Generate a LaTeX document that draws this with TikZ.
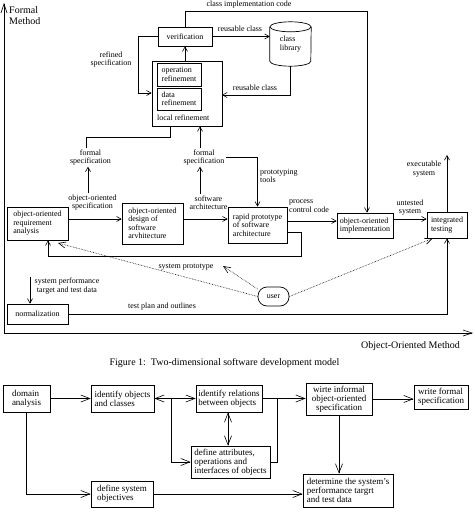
\documentclass[tikz,border=0pt]{standalone}
\usepackage{fontspec}
\setmainfont{Liberation Serif}
\usetikzlibrary{arrows.meta,calc}
\newcommand\myft{\fontsize{8}{8.5}\selectfont}
\newcommand\myfb{\fontsize{9}{9}\selectfont}
\newcommand\myfl{\fontsize{10}{11}\selectfont}
\tikzset{
  bx/.style={line width=0.7pt},
  box/.style={draw, line width=0.7pt, inner sep=1pt, align=left, font=\myft},
  bbox/.style={draw, line width=0.7pt, inner sep=1pt, align=left, font=\myfb},
  lbl/.style={inner sep=1pt, font=\myft, align=center},
  arr/.style={line width=0.6pt, -{Straight Barb[length=4.5pt,width=5pt]}},
  barr/.style={line width=0.6pt, -{Straight Barb[length=9pt,width=7pt]}},
  bboth/.style={line width=0.6pt, {Straight Barb[length=9pt,width=7pt]}-{Straight Barb[length=9pt,width=7pt]}},
  darr/.style={densely dotted, line width=0.6pt, -{Straight Barb[length=7pt,width=6pt]}},
  axarr/.style={line width=0.6pt, -{Straight Barb[length=9pt,width=6pt]}},
}
\begin{document}
\begin{tikzpicture}[x=1pt,y=-1pt]
\useasboundingbox (0,0) rectangle (474,513);
% axes
\coordinate (ax0) at (4,333);
\coordinate (axy) at (4,3);
\coordinate (axx) at (473,333);
\draw[axarr] (ax0) -- (axy);
\draw[axarr] (ax0) -- (axx);
\node[inner sep=0pt, font=\myfl, align=left, anchor=north west] (fm) at (9,6) {Formal\\Method};
\node[inner sep=0pt, font=\myfl] (oom) at (410.5,346) {Object-Oriented Method};
\node[inner sep=0pt, font=\myfl] (cap) at (224.5,363) {Figure 1:\ \ Two-dimensional software development model};

% top cluster
\node[box, align=center, minimum width=54pt, minimum height=19pt] (ver) at (185,36.5) {verification};
\node[inner sep=0pt, minimum width=41pt, minimum height=44pt, font=\myft, align=left] (lib) at (290.5,44) {class\\library};
\draw[bx] ([yshift=-5pt]lib.north) ellipse [x radius=20.5pt, y radius=5pt];
\draw[bx] ([yshift=-5pt]lib.north west) -- ([yshift=5pt]lib.south west)
  arc[start angle=180, end angle=360, x radius=20.5pt, y radius=5pt] -- ([yshift=-5pt]lib.north east);
\node[draw, bx, minimum width=70pt, minimum height=65pt, inner sep=0pt] (lr) at (187,93.5) {};
\node[box, minimum width=44pt, minimum height=23pt] (opr) at (179,74.5) {operation\\refinement};
\node[box, minimum width=44pt, minimum height=22pt] (dr) at (179,99) {data\\refinement};
\node[lbl, anchor=west] (lrl) at (156,117.5) {local refinement};

% middle row
\node[box, minimum width=61pt, minimum height=33pt] (req) at (37.5,223.5) {object-oriented\\requirement\\analysis};
\node[box, minimum width=61pt, minimum height=41pt] (des) at (152.5,223.5) {object-oriented\\design of\\software\\arvhitecture};
\node[box, minimum width=59pt, minimum height=36pt] (rp) at (257.5,225) {rapid prototype\\of software\\architecture};
\node[box, minimum width=56pt, minimum height=25pt] (impl) at (365,225.5) {object-oriented\\implementation};
\node[box, minimum width=40pt, minimum height=26pt] (it) at (447,225) {integrated\\testing};
\node[box, minimum width=61pt, minimum height=20pt] (norm) at (37.5,314) {normalization};
\node[draw, line width=0.7pt, rounded corners=9pt, minimum width=31pt, minimum height=19pt, inner sep=0pt, font=\myft] (user) at (273.5,296.5) {user};

% labels
\node[lbl] (lcic) at (249,5) {class implementation code};
\node[lbl] (lrs) at (111,59.5) {refined\\specification};
\node[lbl] (lrc1) at (240,29) {reusable class};
\node[lbl] (lrc2) at (255,88) {reusable class};
\node[lbl] (fs1) at (90.5,157.5) {formal\\specification};
\node[lbl] (oos) at (92.5,202.5) {object-oriented\\specification};
\node[lbl] (fs2) at (204,157.5) {formal\\specification};
\node[lbl] (sa) at (208.5,202.5) {software\\architecture};
\node[lbl, align=left, anchor=west] (pt) at (259,176) {prototyping\\tools};
\node[lbl, align=left, anchor=west] (pcc) at (288,206) {process\\control code};
\node[lbl] (us) at (410,207.5) {untested\\system};
\node[lbl] (es) at (424,169) {executable\\system};
\node[lbl] (sp) at (186,267) {system prototype};
\node[lbl] (tpo) at (162,307) {test plan and outlines};
\node[lbl] (spt) at (67,286) {system performance\\target and test data};

% helper coordinates
\coordinate (c1) at (367,11);
\coordinate (c2) at (222,95);
\coordinate (c3) at (170,137);
\coordinate (c4) at (48,256);
\coordinate (c6) at (30,277);
\coordinate (x88) at (88,0);
\coordinate (x200) at (200,0);
\coordinate (tes) at (447,155);
\coordinate (t1) at (58,243);
\coordinate (t2) at (223,266);

% top connectors
\draw[arr] (lr.north -| ver.south) -- (ver.south);
\draw[arr] (ver.west) -- ++(-19,0) -- ++(0,56.5) -- ++(13,0);
\draw[arr] (ver.north) |- (c1) -- (c1 |- impl.north);
\draw[arr] (ver.east) -- (ver.east -| lib.west);
\draw[arr] (lib.south) |- (c2);
\draw[line width=0.6pt] ([xshift=-4.5pt]fs1.north) |- (c3) -- (c3 |- lr.south);
\draw[arr] (oos.north -| x88) -- (fs1.south -| x88);
\draw[arr] (sa.north -| x200) -- (fs2.south -| x200);
\draw[arr] (fs2.north -| x200) -- (lr.south -| x200);
\draw[arr] (fs2.east) -| (rp.north);

% middle connectors
\draw[arr] ([yshift=4.5pt]req.east) -- ([yshift=4.5pt]req.east -| des.west);
\draw[arr] ([yshift=4.5pt]des.east) -- ([yshift=4.5pt]des.east -| rp.west);
\draw[arr] ([yshift=4pt]rp.east) -- ([yshift=4pt]rp.east -| impl.west);
\draw[arr] ([yshift=6.5pt]impl.east) -- ([yshift=6.5pt]impl.east -| it.west);
\draw[arr] (it.north) -- (tes);
\draw[arr] ([yshift=-7pt]rp.east) -- ++(14,0) |- (c4) -- (c4 |- req.south);
\draw[arr] (norm.east) -| (it.south);
\draw[arr] (c6) -- (c6 |- norm.north);
\draw[darr] (user.west) -- (t1);
\draw[darr] (user.155) -- (t2);
\draw[darr] (user.east) -- ([xshift=6pt]it.south west);

% bottom figure
\node[bbox, minimum width=47pt, minimum height=27pt] (da) at (26.5,398.5) {domain\\analysis};
\node[bbox, minimum width=63pt, minimum height=27pt] (ioc) at (122.5,398.5) {identify objects\\and classes};
\node[bbox, minimum width=66pt, minimum height=27pt] (irb) at (229,398.5) {identify relations\\between objects};
\node[bbox, minimum width=79pt, minimum height=32pt] (dat) at (230.5,462) {define attributes,\\operations and\\interfaces of objects};
\node[bbox, minimum width=62pt, minimum height=26pt] (dso) at (122,494) {define system\\objectives};
\node[bbox, align=center, minimum width=66pt, minimum height=32pt] (wio) at (339,399) {wirte informal\\object-oriented\\specification};
\node[bbox, minimum width=54pt, minimum height=24pt] (wfs) at (441,397) {write formal\\specification};
\node[bbox, minimum width=90pt, minimum height=33pt] (det) at (348,490.5) {determine the system's\\performance targrt\\and test data};

\coordinate (j1) at (171,398.5);
\coordinate (j2) at (277,398.5);
\coordinate (x228) at (228,0);
\draw[barr] (da.east) -- (ioc.west);
\draw[barr] (da.south) |- (dso.west);
\draw[bboth] (ioc.east) -- (irb.west);
\draw[barr] (j1) |- (dat.west);
\draw[bboth] (irb.south -| x228) -- (dat.north -| x228);
\draw[barr] (irb.east) -- (irb.east -| wio.west);
\draw[line width=0.6pt] (dat.east) -| (j2);
\draw[barr] (wio.east) -- (wio.east -| wfs.west);
\draw[barr] (wio.south) -- (wio.south |- det.north);
\draw[barr] (dso.east) -- (dso.east -| det.west);
\end{tikzpicture}
\end{document}
